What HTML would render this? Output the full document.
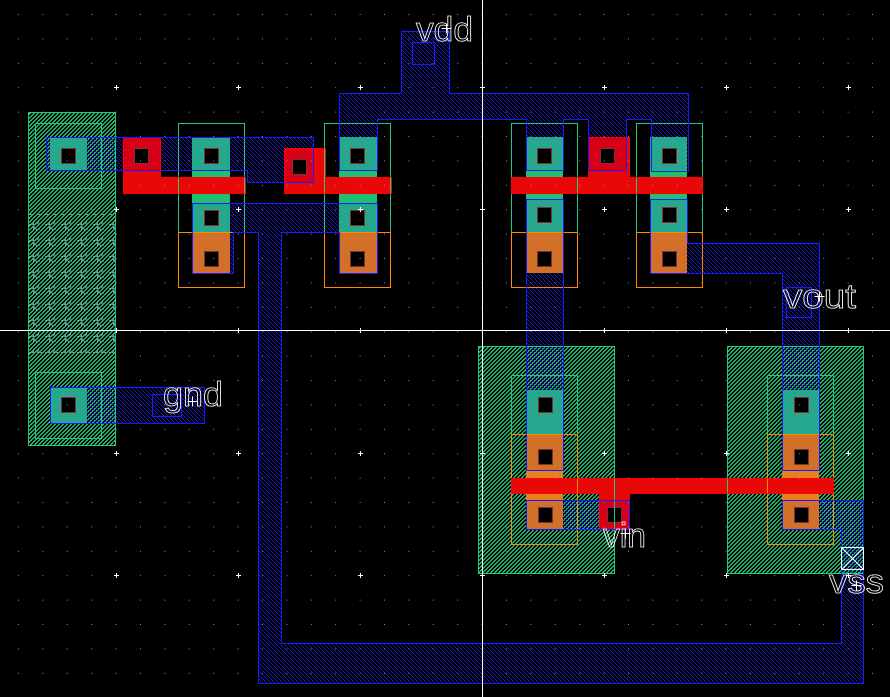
<!DOCTYPE html>
<html><head><meta charset="utf-8"><style>
html,body{margin:0;padding:0;background:#000;}
svg{display:block;}
text{font-family:"Liberation Sans",sans-serif;font-size:34px;fill:none;stroke:#fff;stroke-width:0.8;}
</style></head><body>
<svg width="890" height="697" viewBox="0 0 890 697" xmlns="http://www.w3.org/2000/svg" shape-rendering="crispEdges">
<defs>
<pattern id="mh" width="4" height="4" patternUnits="userSpaceOnUse"><path d="M0 0h1v1h-1zM1 1h1v1h-1zM2 2h1v1h-1zM3 3h1v1h-1z" fill="#1818c8"/></pattern>
<pattern id="wh" width="4" height="4" patternUnits="userSpaceOnUse"><path d="M2 0h2v1h-2zM1 1h2v1h-2zM0 2h2v1h-2zM0 3h1v1h-1zM3 3h1v1h-1z" fill="#1fb06c"/></pattern>
<pattern id="sq" x="28" y="218" width="16" height="16" patternUnits="userSpaceOnUse"><path d="M1 6.5h4M5.5 3v8M5.5 8.5l3 3h3M8.5 6.5l2.5-2.5" stroke="#8a8aa8" stroke-width="1" fill="none"/></pattern>
<pattern id="gd" x="18" y="14" width="24.4" height="24.4" patternUnits="userSpaceOnUse"><rect width="1" height="1" fill="#8c8cb0"/></pattern>
<path id="c" d="M-2 0.5h5M0.5 -2v5" stroke="#fff" stroke-width="1" fill="none"/>
</defs>

<rect width="890" height="697" fill="#000"/>

<!-- wells -->
<rect x="28" y="112" width="88" height="334" fill="url(#wh)"/>
<rect x="478" y="346" width="137" height="228" fill="url(#wh)"/>
<rect x="727" y="346" width="137" height="228" fill="url(#wh)"/>
<rect x="29" y="214" width="86" height="139" fill="url(#sq)"/>
<path d="M29 214.5h86M29 352.5h86" stroke="#8a8aa8" stroke-width="1" stroke-dasharray="5 3" fill="none"/>

<!-- metal hatch -->
<g fill="url(#mh)">
<polygon points="46,137 313,137 313,182 247,182 247,170 46,170"/>
<polygon points="50,387 204,387 204,423 50,423"/>
<polygon points="401,31 449,31 449,93 688,93 688,171 651,171 651,119 626,119 626,170 588,170 588,119 563,119 563,170 526,170 526,119 377,119 377,170 339,170 339,93 401,93"/>
<polygon points="526,199 563,199 563,470 526,470"/>
<polygon points="650,199 687,199 687,243 819,243 819,470 782,470 782,273 650,273"/>
<polygon points="526,500 629,500 629,529 526,529"/>
<polygon points="192,203 377,203 377,273 339,273 339,232 281,232 281,643 841,643 841,529 782,529 782,500 863,500 863,683 258,683 258,232 233,232 233,273 192,273"/>
</g>

<!-- active -->
<g>
<rect x="50" y="137" width="37" height="33" fill="#26a88e"/>
<rect x="50" y="387" width="37" height="36" fill="#26a88e"/>
<rect x="192" y="137" width="38" height="33" fill="#26a88e"/>
<rect x="192" y="170" width="38" height="33" fill="#20c070"/>
<rect x="192" y="203" width="38" height="29" fill="#26a88e"/>
<rect x="192" y="232" width="38" height="41" fill="#d2702a"/>
<rect x="339" y="137" width="38" height="33" fill="#26a88e"/>
<rect x="339" y="170" width="38" height="33" fill="#20c070"/>
<rect x="339" y="203" width="38" height="29" fill="#26a88e"/>
<rect x="339" y="232" width="38" height="41" fill="#d2702a"/>
<rect x="526" y="137" width="37" height="33" fill="#26a88e"/>
<rect x="526" y="170" width="37" height="29" fill="#20c070"/>
<rect x="526" y="199" width="37" height="33" fill="#26a88e"/>
<rect x="526" y="232" width="37" height="41" fill="#d2702a"/>
<rect x="650" y="137" width="37" height="33" fill="#26a88e"/>
<rect x="650" y="170" width="37" height="29" fill="#20c070"/>
<rect x="650" y="199" width="37" height="33" fill="#26a88e"/>
<rect x="650" y="232" width="37" height="41" fill="#d2702a"/>
<rect x="526" y="390" width="37" height="44" fill="#26a88e"/>
<rect x="526" y="434" width="37" height="36" fill="#d2702a"/>
<rect x="526" y="470" width="37" height="30" fill="#e88020"/>
<rect x="526" y="500" width="37" height="29" fill="#d2702a"/>
<rect x="782" y="390" width="37" height="44" fill="#26a88e"/>
<rect x="782" y="434" width="37" height="36" fill="#d2702a"/>
<rect x="782" y="470" width="37" height="30" fill="#e88020"/>
<rect x="782" y="500" width="37" height="29" fill="#d2702a"/>
</g>

<!-- poly -->
<g fill="#e80808">
<rect x="123" y="137" width="37" height="40"/>
<rect x="123" y="177" width="122" height="16"/>
<rect x="284" y="148" width="41" height="29"/>
<rect x="284" y="177" width="107" height="16"/>
<rect x="511" y="177" width="191" height="16"/>
<rect x="588" y="137" width="41" height="40"/>
<rect x="511" y="478" width="322" height="15"/>
<rect x="599" y="493" width="30" height="36"/>
</g>
<g fill="#d80018">
<rect x="123" y="137" width="37" height="33"/>
<rect x="284" y="148" width="29" height="34"/>
<rect x="588" y="137" width="38" height="33"/>
<rect x="599" y="500" width="30" height="29"/>
</g>

<!-- cuts -->
<g fill="#000" stroke="#803030" stroke-width="1" transform="translate(0.5,0.5)">
<rect x="61" y="148" width="14" height="15"/>
<rect x="61" y="397" width="14" height="15"/>
<rect x="134" y="148" width="14" height="15"/>
<rect x="292" y="159" width="14" height="15"/>
<rect x="600" y="148" width="14" height="15"/>
<rect x="607" y="507" width="14" height="15"/>
<rect x="204" y="148" width="14" height="15"/>
<rect x="204" y="210" width="14" height="15"/>
<rect x="204" y="251" width="14" height="15"/>
<rect x="350" y="148" width="14" height="15"/>
<rect x="350" y="210" width="14" height="15"/>
<rect x="350" y="251" width="14" height="15"/>
<rect x="537" y="148" width="14" height="15"/>
<rect x="537" y="207" width="14" height="15"/>
<rect x="537" y="251" width="14" height="15"/>
<rect x="662" y="148" width="14" height="15"/>
<rect x="662" y="207" width="14" height="15"/>
<rect x="662" y="251" width="14" height="15"/>
<rect x="538" y="397" width="14" height="15"/>
<rect x="538" y="449" width="14" height="15"/>
<rect x="538" y="507" width="14" height="15"/>
<rect x="794" y="397" width="14" height="15"/>
<rect x="794" y="449" width="14" height="15"/>
<rect x="794" y="507" width="14" height="15"/>
</g>

<!-- outlines -->
<g fill="none" stroke-width="1" transform="translate(0.5,0.5)">
<g stroke="#22cc77">
<rect x="28" y="112" width="87" height="333"/>
<rect x="478" y="346" width="136" height="227"/>
<rect x="727" y="346" width="136" height="227"/>
<rect x="35" y="123" width="66" height="65"/>
<rect x="35" y="372" width="66" height="66"/>
<rect x="178" y="123" width="66" height="109"/>
<rect x="324" y="123" width="66" height="109"/>
<rect x="511" y="123" width="66" height="109"/>
<rect x="636" y="123" width="66" height="109"/>
<rect x="511" y="375" width="66" height="59"/>
<rect x="767" y="375" width="66" height="59"/>
</g>
<g stroke="#ff8800">
<rect x="178" y="232" width="66" height="55"/>
<rect x="324" y="232" width="66" height="55"/>
<rect x="511" y="232" width="66" height="55"/>
<rect x="636" y="232" width="66" height="55"/>
<rect x="511" y="434" width="66" height="110"/>
<rect x="767" y="434" width="66" height="110"/>
</g>
<g stroke="#ff0000">
<polygon points="123,137 160,137 160,177 245,177 245,193 123,193"/>
<polygon points="284,148 325,148 325,177 391,177 391,193 284,193"/>
<polygon points="511,177 588,177 588,137 629,137 629,177 702,177 702,193 511,193"/>
<polygon points="511,478 833,478 833,493 629,493 629,529 599,529 599,493 511,493"/>
</g>
<g stroke="#1a1aff">
<polygon points="46,137 313,137 313,182 247,182 247,170 46,170"/>
<polygon points="50,387 204,387 204,423 50,423"/>
<polygon points="401,31 449,31 449,93 688,93 688,171 651,171 651,119 626,119 626,170 588,170 588,119 563,119 563,170 526,170 526,119 377,119 377,170 339,170 339,93 401,93"/>
<polygon points="526,199 563,199 563,470 526,470"/>
<polygon points="650,199 687,199 687,243 819,243 819,470 782,470 782,273 650,273"/>
<polygon points="526,500 629,500 629,529 526,529"/>
<polygon points="192,203 377,203 377,273 339,273 339,232 281,232 281,643 841,643 841,529 782,529 782,500 863,500 863,683 258,683 258,232 233,232 233,273 192,273"/>
<rect x="412" y="42" width="22" height="22"/>
<rect x="152" y="394" width="29" height="22"/>
<rect x="786" y="287" width="25" height="30"/>
</g>
</g>

<!-- grid -->
<rect width="890" height="697" fill="url(#gd)"/>
<g>
<use href="#c" x="116" y="87"/><use href="#c" x="238" y="87"/><use href="#c" x="360" y="87"/><use href="#c" x="482" y="87"/><use href="#c" x="604" y="87"/><use href="#c" x="726" y="87"/><use href="#c" x="848" y="87"/>
<use href="#c" x="116" y="209"/><use href="#c" x="238" y="209"/><use href="#c" x="360" y="209"/><use href="#c" x="482" y="209"/><use href="#c" x="604" y="209"/><use href="#c" x="726" y="209"/><use href="#c" x="848" y="209"/>
<use href="#c" x="116" y="330"/><use href="#c" x="238" y="330"/><use href="#c" x="360" y="330"/><use href="#c" x="604" y="330"/><use href="#c" x="726" y="330"/><use href="#c" x="848" y="330"/>
<use href="#c" x="116" y="453"/><use href="#c" x="238" y="453"/><use href="#c" x="360" y="453"/><use href="#c" x="482" y="453"/><use href="#c" x="604" y="453"/><use href="#c" x="726" y="453"/><use href="#c" x="848" y="453"/>
<use href="#c" x="116" y="575"/><use href="#c" x="238" y="575"/><use href="#c" x="360" y="575"/><use href="#c" x="482" y="575"/><use href="#c" x="604" y="575"/><use href="#c" x="726" y="575"/><use href="#c" x="848" y="575"/>
</g>
<!-- axes -->
<path d="M482.5 0V697M0 330.5H890" stroke="#fff" stroke-width="1" fill="none"/>

<!-- vss pin -->
<g transform="translate(0.5,0.5)" stroke="#fff" stroke-width="1" fill="none">
<rect x="841" y="547" width="22" height="22"/>
<path d="M841 547L863 569M863 547L841 569"/>
</g>

<!-- label markers -->
<g stroke="#fff" stroke-width="1" fill="none" transform="translate(0.5,0.5)">
<path d="M441 28h10M446 23v10"/>
<path d="M187 401h10M192 396v10"/>
<path d="M814 296h10M819 291v10"/>
<path d="M620 533h10M625 528v10"/>
<path d="M851 585h10M856 580v10"/>
</g>

<!-- labels -->
<g shape-rendering="auto">
<text x="416" y="41" textLength="57" lengthAdjust="spacingAndGlyphs">vdd</text>
<text x="163" y="406" textLength="60" lengthAdjust="spacingAndGlyphs">gnd</text>
<text x="783" y="308" textLength="73" lengthAdjust="spacingAndGlyphs">vout</text>
<text x="603" y="547" textLength="43" lengthAdjust="spacingAndGlyphs">vin</text>
<text x="829" y="593" textLength="55" lengthAdjust="spacingAndGlyphs">vss</text>
</g>
</svg>
</body></html>
